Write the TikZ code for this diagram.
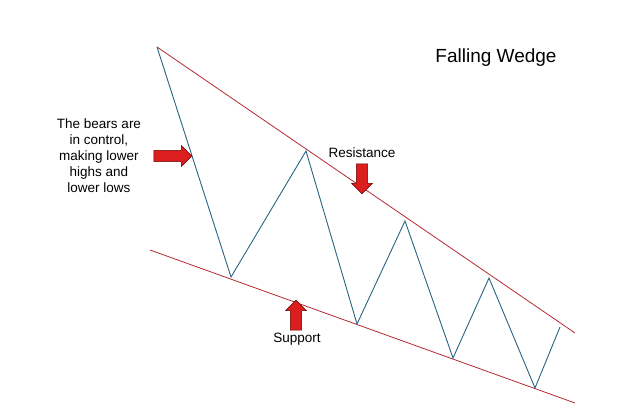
\documentclass[tikz,border=0pt]{standalone}
\usepackage{fontspec}
\setmainfont{Liberation Sans}
\usetikzlibrary{shapes.arrows}
\definecolor{lred}{RGB}{180,40,50}
\definecolor{zig}{RGB}{40,100,130}
\definecolor{ared}{RGB}{220,30,30}
\begin{document}
\begin{tikzpicture}[x=1pt,y=-1pt,
  bound/.style={draw=lred,line width=0.8pt},
  zz/.style={draw=zig,line width=0.9pt},
  blk/.style={single arrow,draw=red!40!black,fill=ared,line width=0.6pt,minimum height=30pt,minimum width=21pt,single arrow head extend=2pt,inner sep=2pt},
  lbl/.style={font=\fontsize{13.5}{16}\selectfont,align=center}]
\useasboundingbox (0,0) rectangle (640,418);
\coordinate (r1) at (157,47); \coordinate (r2) at (575,333);
\coordinate (s1) at (150,250); \coordinate (s2) at (575,403);
\draw[bound] (r1) -- (r2);
\draw[bound] (s1) -- (s2);
\coordinate (p1) at (231,277); \coordinate (p2) at (306,151);
\coordinate (p3) at (357,324); \coordinate (p4) at (405,221);
\coordinate (p5) at (453,358); \coordinate (p6) at (489,278);
\coordinate (p7) at (535,388); \coordinate (p8) at (560,327);
\draw[zz] (r1) -- (p1) -- (p2) -- (p3) -- (p4) -- (p5) -- (p6) -- (p7) -- (p8);
\node[blk,minimum height=38pt] (al) at (170,156) {};
\node[blk,rotate=-90] (ar) at (362,176) {};
\node[blk,rotate=90] (as) at (296,318) {};
\node[lbl] (tl) at (99,156) {The bears are\\in control,\\making lower\\highs and\\lower lows};
\node[lbl] (tr) at (362,153) {Resistance};
\node[lbl] (ts) at (297,339) {Support};
\node[font=\fontsize{19}{22}\selectfont] (tt) at (496,58) {Falling Wedge};
\end{tikzpicture}
\end{document}
